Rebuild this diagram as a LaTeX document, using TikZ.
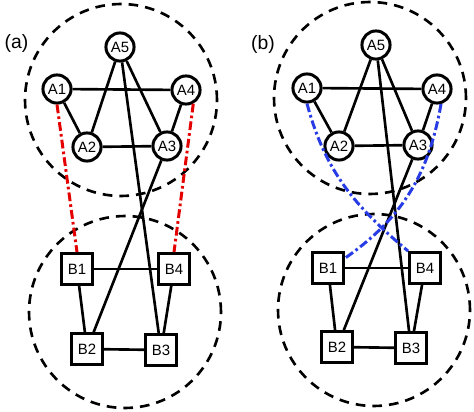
\documentclass[tikz,border=0pt]{standalone}
\usepackage{fontspec}
\setmainfont{Liberation Sans}
\begin{document}
\begin{tikzpicture}[x=0.02cm,y=-0.02cm,
  anode/.style={circle,draw,line width=1.7pt,fill=white,minimum size=16pt,inner sep=0pt,font=\fontsize{8.5}{10}\selectfont},
  bnode/.style={rectangle,draw,line width=1.7pt,fill=white,minimum size=17.5pt,inner sep=0pt,font=\fontsize{8.5}{10}\selectfont},
  edge/.style={line width=1.5pt},
  group/.style={line width=1.5pt,dash pattern=on 5.5pt off 4pt},
  redlink/.style={line width=1.7pt,color=red!90!black,dash pattern=on 5pt off 1.8pt on 1.5pt off 1.8pt},
  bluelink/.style={line width=1.7pt,color={rgb,255:red,40;green,60;blue,230},dash pattern=on 5pt off 1.8pt on 1.5pt off 1.8pt},
  plabel/.style={font=\fontsize{11}{13}\selectfont}]
\useasboundingbox (0,0) rectangle (474,412);
% group circles
\draw[group] (121,100) circle[radius=1.92cm];
\draw[group] (125,312) circle[radius=1.92cm];
\draw[group] (370,98) circle[radius=1.92cm];
\draw[group] (374,310) circle[radius=1.92cm];
% labels
\node[plabel] (la) at (16.5,44) {(a)};
\node[plabel] (lb) at (263,45) {(b)};
% panel a nodes
\node[anode] (aA5) at (120,47) {A5};
\node[anode] (aA1) at (57,89) {A1};
\node[anode] (aA4) at (186,90) {A4};
\node[anode] (aA2) at (87,147) {A2};
\node[anode] (aA3) at (167,146) {A3};
\node[bnode] (aB1) at (77,269) {B1};
\node[bnode] (aB4) at (174,269) {B4};
\node[bnode] (aB2) at (87,349) {B2};
\node[bnode] (aB3) at (161,350) {B3};
% panel b nodes
\node[anode] (bA5) at (376,45) {A5};
\node[anode] (bA1) at (307,88) {A1};
\node[anode] (bA4) at (437,89) {A4};
\node[anode] (bA2) at (339,146) {A2};
\node[anode] (bA3) at (418,145) {A3};
\node[bnode] (bB1) at (328,268) {B1};
\node[bnode] (bB4) at (425,268) {B4};
\node[bnode] (bB2) at (337,347) {B2};
\node[bnode] (bB3) at (411,348) {B3};
% edges
\foreach \p in {a,b}{
  \draw[edge] (\p A1) -- (\p A4);
  \draw[edge] (\p A1) -- (\p A2);
  \draw[edge] (\p A2) -- (\p A3);
  \draw[edge] (\p A2) -- (\p A5);
  \draw[edge] (\p A5) -- (\p A3);
  \draw[edge] (\p A3) -- (\p A4);
  \draw[edge] (\p A5) -- (\p B3);
  \draw[edge] (\p A3) -- (\p B2);
  \draw[edge] (\p B1) -- (\p B4);
  \draw[edge] (\p B1) -- (\p B2);
  \draw[edge] (\p B2) -- (\p B3);
  \draw[edge] (\p B3) -- (\p B4);
}
% inter-group links
\draw[redlink] (aA1.south) -- (aB1.north);
\draw[redlink] (aA4.-62) -- (aB4.north);
\draw[bluelink] (bA1.south) to[out=-75,in=140] (bB4.north west);
\draw[bluelink] (bA4.-75) to[out=-100,in=35] (bB1.30);
\end{tikzpicture}
\end{document}
